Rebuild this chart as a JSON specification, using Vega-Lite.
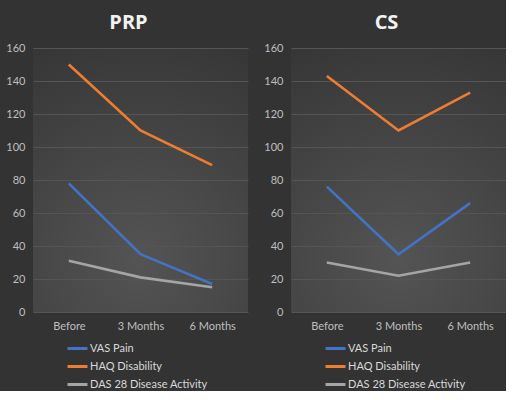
{
  "$schema": "https://vega.github.io/schema/vega-lite/v6.json",
  "padding": {"left": 5, "top": 13, "right": 0, "bottom": 0},
  "background": "#333333",
  "datasets": {
    "scores": [
      {"group": "PRP", "time": "Before", "measure": "VAS Pain", "value": 78},
      {"group": "PRP", "time": "3 Months", "measure": "VAS Pain", "value": 35},
      {"group": "PRP", "time": "6 Months", "measure": "VAS Pain", "value": 17},
      {"group": "PRP", "time": "Before", "measure": "HAQ Disability", "value": 150},
      {"group": "PRP", "time": "3 Months", "measure": "HAQ Disability", "value": 110},
      {"group": "PRP", "time": "6 Months", "measure": "HAQ Disability", "value": 89},
      {"group": "PRP", "time": "Before", "measure": "DAS 28 Disease Activity", "value": 31},
      {"group": "PRP", "time": "3 Months", "measure": "DAS 28 Disease Activity", "value": 21},
      {"group": "PRP", "time": "6 Months", "measure": "DAS 28 Disease Activity", "value": 15},
      {"group": "CS", "time": "Before", "measure": "VAS Pain", "value": 76},
      {"group": "CS", "time": "3 Months", "measure": "VAS Pain", "value": 35},
      {"group": "CS", "time": "6 Months", "measure": "VAS Pain", "value": 66},
      {"group": "CS", "time": "Before", "measure": "HAQ Disability", "value": 143},
      {"group": "CS", "time": "3 Months", "measure": "HAQ Disability", "value": 110},
      {"group": "CS", "time": "6 Months", "measure": "HAQ Disability", "value": 133},
      {"group": "CS", "time": "Before", "measure": "DAS 28 Disease Activity", "value": 30},
      {"group": "CS", "time": "3 Months", "measure": "DAS 28 Disease Activity", "value": 22},
      {"group": "CS", "time": "6 Months", "measure": "DAS 28 Disease Activity", "value": 30}
    ]
  },
  "spacing": 15,
  "resolve": {"scale": {"color": "independent"}, "legend": {"color": "independent"}},
  "hconcat": [
    {
      "title": {"text": "PRP", "dx": -12},
      "width": 215,
      "height": 264,
      "data": {"name": "scores"},
      "transform": [{"filter": "datum.group === 'PRP'"}],
      "mark": {"type": "line", "strokeWidth": 2.6},
      "encoding": {
        "x": {"field": "time", "type": "ordinal", "sort": ["Before", "3 Months", "6 Months"], "title": null},
        "y": {"field": "value", "type": "quantitative", "scale": {"domain": [0, 160]}, "axis": {"values": [0, 20, 40, 60, 80, 100, 120, 140, 160]}, "title": null},
        "color": {
          "field": "measure",
          "type": "nominal",
          "sort": ["VAS Pain", "HAQ Disability", "DAS 28 Disease Activity"],
          "scale": {"domain": ["VAS Pain", "HAQ Disability", "DAS 28 Disease Activity"], "range": ["#4472c4", "#ed7d31", "#a5a5a5"]},
          "legend": {"orient": "none", "legendX": 33, "legendY": 289, "title": null}
        }
      }
    },
    {
      "title": {"text": "CS", "dx": -12},
      "width": 215,
      "height": 264,
      "data": {"name": "scores"},
      "transform": [{"filter": "datum.group === 'CS'"}],
      "mark": {"type": "line", "strokeWidth": 2.6},
      "encoding": {
        "x": {"field": "time", "type": "ordinal", "sort": ["Before", "3 Months", "6 Months"], "title": null},
        "y": {"field": "value", "type": "quantitative", "scale": {"domain": [0, 160]}, "axis": {"values": [0, 20, 40, 60, 80, 100, 120, 140, 160]}, "title": null},
        "color": {
          "field": "measure",
          "type": "nominal",
          "sort": ["VAS Pain", "HAQ Disability", "DAS 28 Disease Activity"],
          "scale": {"domain": ["VAS Pain", "HAQ Disability", "DAS 28 Disease Activity"], "range": ["#4472c4", "#ed7d31", "#a5a5a5"]},
          "legend": {"orient": "none", "legendX": 33, "legendY": 289, "title": null}
        }
      }
    }
  ],
  "config": {
    "font": "Lato",
    "view": {
      "stroke": null,
      "fill": {
        "gradient": "radial",
        "x1": 0.5, "y1": 0.8, "r1": 0,
        "x2": 0.5, "y2": 0.8, "r2": 0.9,
        "stops": [
          {"offset": 0, "color": "#545454"},
          {"offset": 1, "color": "#363636"}
        ]
      }
    },
    "title": {"fontSize": 20, "fontWeight": "bold", "color": "#f2f2f2", "offset": 9, "font": "Open Sans"},
    "axisY": {"domain": false, "ticks": false, "labelColor": "#bfbfbf", "labelFontSize": 11, "labelPadding": 8, "gridColor": "#555555", "gridWidth": 1},
    "axisX": {"domain": false, "ticks": false, "grid": false, "labelColor": "#bfbfbf", "labelFontSize": 11, "labelPadding": 8, "labelAngle": 0},
    "legend": {"symbolType": "stroke", "symbolStrokeWidth": 3, "symbolSize": 400, "labelColor": "#d9d9d9", "labelFontSize": 11, "labelOffset": 1, "rowPadding": 0}
  }
}
